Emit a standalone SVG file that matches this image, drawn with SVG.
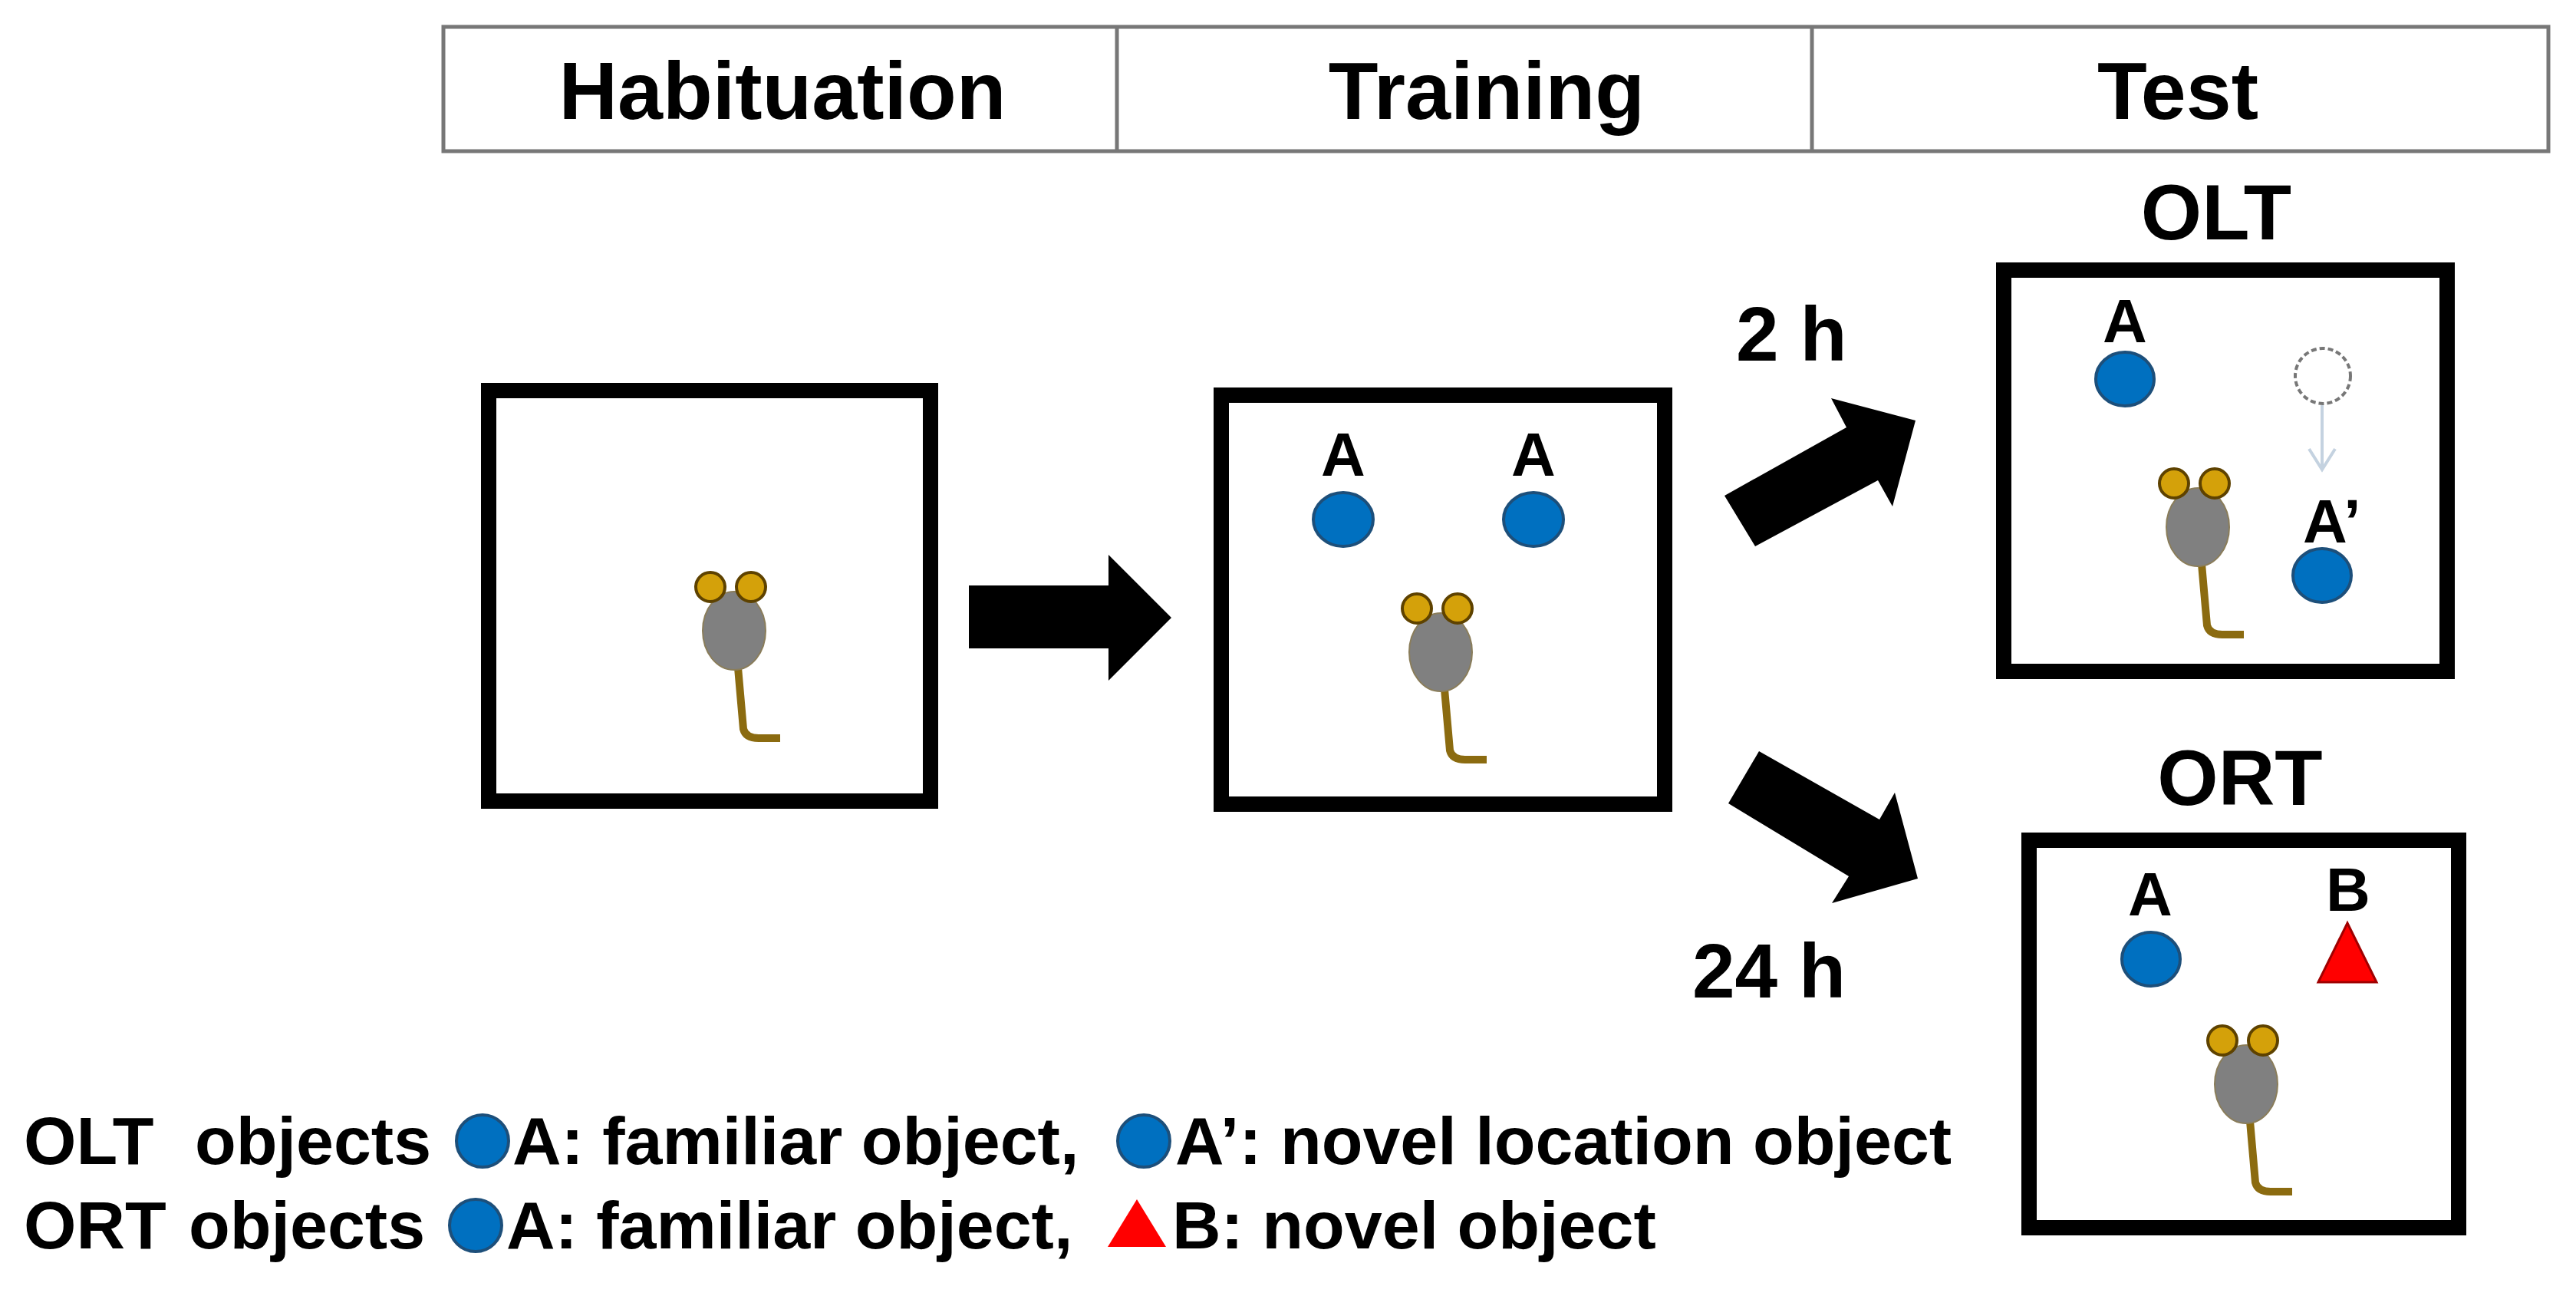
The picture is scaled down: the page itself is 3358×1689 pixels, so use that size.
<svg xmlns="http://www.w3.org/2000/svg" width="3358" height="1689" viewBox="0 0 3358 1689">
<style>
text{font-family:"Liberation Sans",Arial,sans-serif;font-weight:bold;fill:#000}
.hdr{font-size:106px;text-anchor:middle}
.lbl{font-size:80px;text-anchor:middle}
.ttl{font-size:102px;text-anchor:middle}
.leg{font-size:88px}
.box{fill:#fff;stroke:#000;stroke-width:20}
.obj{fill:#0070C0;stroke:#1d4f7a;stroke-width:4}
.tri{fill:#ff0000;stroke:#a00000;stroke-width:3}
.big{fill:#000}
</style>
<defs>
<g id="mouse">
<path d="M5 48 L12 128 Q15 140 32 140 L60 140" fill="none" stroke="#8B6B10" stroke-width="10" stroke-linejoin="round"/>
<ellipse cx="0" cy="0" rx="41" ry="51" fill="#808080" stroke="#8a7d5a" stroke-width="2"/>
<circle cx="-31" cy="-57" r="19" fill="#D4A10A" stroke="#5e4200" stroke-width="4"/>
<circle cx="22" cy="-57" r="19" fill="#D4A10A" stroke="#5e4200" stroke-width="4"/>
</g>
</defs>
<rect width="3358" height="1689" fill="#fff"/>
<g id="header">
<rect x="578" y="35" width="2744" height="162" fill="#fff" stroke="#777" stroke-width="5"/>
<line x1="1456" y1="35" x2="1456" y2="197" stroke="#777" stroke-width="5"/>
<line x1="2362" y1="35" x2="2362" y2="197" stroke="#777" stroke-width="5"/>
<text class="hdr" x="1020" y="155">Habituation</text>
<text class="hdr" x="1938" y="155">Training</text>
<text class="hdr" x="2839" y="155">Test</text>
</g>
<g id="habituation">
<rect class="box" x="637" y="509" width="576" height="535"/>
<use href="#mouse" transform="translate(957,822)"/>
</g>
<g id="training">
<rect class="box" x="1592" y="515" width="578" height="533"/>
<text class="lbl" x="1751" y="620">A</text>
<text class="lbl" x="1999" y="620">A</text>
<ellipse class="obj" cx="1751" cy="677" rx="39" ry="35"/>
<ellipse class="obj" cx="1999" cy="677" rx="39" ry="35"/>
<use href="#mouse" transform="translate(1878,850)"/>
</g>
<g id="olt">
<text class="ttl" x="2889" y="312">OLT</text>
<rect class="box" x="2612" y="352" width="578" height="523"/>
<text class="lbl" x="2770" y="446">A</text>
<ellipse class="obj" cx="2770" cy="494" rx="38" ry="35"/>
<circle cx="3028" cy="490" r="36" fill="none" stroke="#777" stroke-width="4" stroke-dasharray="7 4"/>
<line x1="3027" y1="528" x2="3027" y2="610" stroke="#c4d2e0" stroke-width="4"/>
<polyline points="3010,585 3027,612 3044,585" fill="none" stroke="#c4d2e0" stroke-width="4"/>
<text class="lbl" x="3002" y="707" style="text-anchor:start">A’</text>
<ellipse class="obj" cx="3027" cy="750" rx="38" ry="35"/>
<use href="#mouse" transform="translate(2865,687)"/>
</g>
<g id="ort">
<text class="ttl" x="2920" y="1049">ORT</text>
<rect class="box" x="2645" y="1095" width="560" height="505"/>
<text class="lbl" x="2803" y="1193">A</text>
<ellipse class="obj" cx="2804" cy="1250" rx="38" ry="35"/>
<text class="lbl" x="3061" y="1187">B</text>
<polygon class="tri" points="3060,1203 3098,1280 3022,1280"/>
<use href="#mouse" transform="translate(2928,1413)"/>
</g>
<g id="connectors">
<polygon class="big" points="1263,763 1445,763 1445,723 1527,805 1445,887 1445,845 1263,845"/>
<polygon class="big" points="2248,646 2407,557 2387,519 2497,548 2467,660 2448,626 2288,712"/>
<polygon class="big" points="2293,979 2450,1068 2470,1033 2500,1145 2388,1177 2410,1142 2253,1047"/>
<text x="2263" y="470" style="font-size:100px">2 h</text>
<text x="2206" y="1300" style="font-size:100px">24 h</text>
</g>
<g id="legend">
<text class="leg" x="31" y="1517">OLT</text>
<text class="leg" x="254" y="1517">objects</text>
<ellipse class="obj" cx="629" cy="1487" rx="34" ry="34" stroke="none"/>
<text class="leg" x="668" y="1517">A: familiar object,</text>
<ellipse class="obj" cx="1491" cy="1487" rx="34" ry="34" stroke="none"/>
<text class="leg" x="1532" y="1517">A’: novel location object</text>
<text class="leg" x="31" y="1627">ORT</text>
<text class="leg" x="246" y="1627">objects</text>
<ellipse class="obj" cx="620" cy="1597" rx="34" ry="34" stroke="none"/>
<text class="leg" x="660" y="1627">A: familiar object,</text>
<polygon points="1482,1563 1520,1625 1444,1625" fill="#ff0000"/>
<text class="leg" x="1528" y="1627">B: novel object</text>
</g>
</svg>
